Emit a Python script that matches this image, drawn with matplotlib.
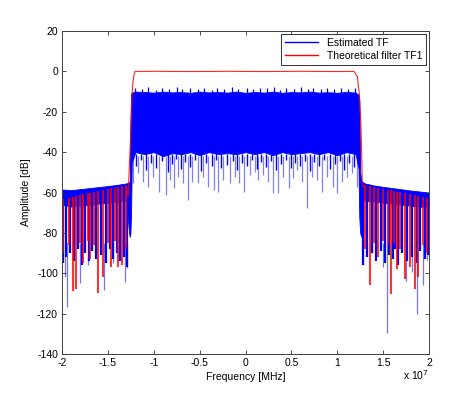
import numpy as np
import matplotlib.pyplot as plt

plt.rcParams["font.family"] = ["Liberation Sans", "DejaVu Sans"]
plt.rcParams["font.size"] = 7.5
plt.rcParams["axes.unicode_minus"] = False

# ===================== data (frequency in units of 1e7, amplitude in dB) =====================
# estimated TF : dense band (upper / lower envelope of the solid blue region)
blue_f = [-2.0, -1.9, -1.8, -1.7, -1.6, -1.5, -1.4, -1.3, -1.27, -1.262, -1.255, -1.248, -1.24,
          -1.2, -1.1, -1.0, -0.9, -0.8, -0.7, -0.6, -0.5, -0.4, -0.3, -0.2, -0.1, 0.0,
          0.1, 0.2, 0.3, 0.4, 0.5, 0.6, 0.7, 0.8, 0.9, 1.0, 1.1, 1.2, 1.232, 1.24, 1.25, 1.262,
          1.27, 1.3, 1.4, 1.5, 1.6, 1.7, 1.8, 1.9, 2.0]
blue_top = [-58.5, -58.8, -58.3, -57.8, -57.3, -56.8, -56.2, -55.5, -55.0, -54.5, -25.0, -11.0, -10.5,
            -10.0, -10.2, -10.5, -10.0, -10.4, -10.2, -10.6, -10.0, -10.4, -10.2, -10.5, -10.0, -10.6,
            -10.2, -10.5, -10.0, -10.6, -10.2, -10.4, -10.0, -10.5, -10.3, -10.6, -10.1, -10.5, -11.5, -14.0, -50.0, -54.0,
            -54.5, -55.5, -56.5, -57.2, -57.8, -58.4, -59.0, -59.5, -60.0]
blue_low = [-66.0, -67.0, -66.5, -66.0, -65.5, -65.0, -64.5, -64.0, -80.0, -82.0, -80.0, -70.0, -45.0,
            -40.0, -41.0, -40.0, -42.0, -40.5, -41.0, -40.0, -41.5, -40.0, -41.0, -40.5, -41.0, -40.0,
            -41.0, -40.0, -41.5, -40.0, -41.0, -40.5, -40.0, -41.0, -40.0, -41.5, -40.0, -41.0, -48.0, -72.0, -80.0, -82.0,
            -64.0, -64.0, -64.5, -65.0, -65.5, -66.0, -66.5, -67.0, -67.0]

# estimated TF : small peaks above the band (passband)
peak_f = [-1.21, -1.13, -1.06, -0.98, -0.91, -0.83, -0.75, -0.69, -0.61, -0.52, -0.45, -0.37, -0.31,
          -0.23, -0.15, -0.08, 0.02, 0.08, 0.16, 0.23, 0.31, 0.38, 0.44, 0.53, 0.61, 0.68, 0.74,
          0.82, 0.89, 0.97, 1.04, 1.12, 1.19]
peak_db = [-8.0, -8.8, -7.8, -9.0, -8.2, -8.6, -7.9, -8.9, -8.1, -8.7, -8.0, -9.1, -8.3,
           -8.5, -7.9, -8.8, -8.2, -8.9, -8.0, -8.4, -7.8, -9.0, -8.3, -8.6, -7.9, -8.8, -8.2,
           -8.5, -8.0, -8.9, -8.1, -8.7, -8.4]

# estimated TF : short dark dips just below the band (passband)
dip_mid_f = [-1.195, -1.14, -1.085, -1.03, -0.975, -0.91, -0.845, -0.80, -0.755, -0.705, -0.655,
             -0.61, -0.55, -0.49, -0.435, -0.37, -0.318, -0.27, -0.205, -0.14, -0.09, -0.04,
             0.015, 0.075, 0.122, 0.168, 0.222, 0.276, 0.33, 0.385, 0.445, 0.50, 0.543, 0.59,
             0.645, 0.70, 0.75, 0.805, 0.86, 0.92, 0.975, 1.025, 1.075, 1.13, 1.185]
dip_mid_db = [-47.0, -44.0, -49.0, -45.5, -48.0, -44.5, -50.0, -46.0, -43.5, -48.5, -45.0,
              -47.5, -44.0, -49.5, -45.5, -47.0, -44.0, -48.0, -46.5, -44.5, -49.0, -45.5,
              -47.0, -44.0, -48.5, -45.0, -47.5, -44.5, -49.0, -46.0, -44.0, -48.0, -45.5, -47.0,
              -44.5, -49.5, -45.0, -47.0, -44.0, -48.5, -46.0, -44.5, -49.0, -45.5, -47.5]

# estimated TF : single deep dips below the band (passband)
dip_pass_f = [-1.223, -1.168, -1.114, -1.059, -1.005, -0.940, -0.867, -0.823, -0.776, -0.732, -0.678,
              -0.630, -0.587, -0.514, -0.467, -0.405, -0.340, -0.296, -0.242, -0.169, -0.114, -0.068,
              -0.016, 0.049, 0.103, 0.140, 0.194, 0.249, 0.303, 0.358, 0.412, 0.477, 0.521, 0.565,
              0.612, 0.674, 0.721, 0.776, 0.830, 0.892, 0.950, 1.000, 1.048, 1.103, 1.157, 1.212]
dip_pass_db = [-55.4, -50.5, -54.6, -57.1, -52.2, -59.6, -61.2, -53.8, -57.9, -52.2, -55.4,
               -63.7, -54.6, -55.4, -52.2, -57.1, -58.8, -59.6, -53.8, -55.4, -52.2, -55.4,
               -59.6, -51.3, -49.7, -53.8, -51.3, -54.6, -60.4, -60.4, -52.2, -57.9, -53.0, -48.8,
               -54.6, -67.8, -52.2, -53.8, -59.6, -52.2, -57.1, -60.4, -54.6, -52.2, -50.5, -57.1]

# estimated TF : stopband lobes (blue streaks between / under the red ones)
blue_stop_f = [-1.995, -1.958, -1.912, -1.866, -1.822, -1.788, -1.745, -1.707, -1.672, -1.627, -1.578,
               -1.525, -1.483, -1.443, -1.404, -1.367, -1.325, -1.29,
               1.285, 1.328, 1.378, 1.424, 1.474, 1.524, 1.568, 1.603, 1.634, 1.666, 1.711, 1.765,
               1.82, 1.865, 1.905, 1.955, 1.993]
blue_stop_db = [-95.0, -92.0, -90.0, -94.0, -88.0, -96.0, -90.0, -94.0, -89.0, -93.0, -91.0,
                -95.0, -88.0, -93.0, -90.0, -94.0, -92.0, -97.0,
                -96.0, -92.0, -90.0, -94.0, -89.0, -95.0, -91.0, -93.0, -88.0, -96.0, -90.0, -94.0,
                -92.0, -95.0, -89.0, -93.0, -91.0]

# estimated TF : single deep dips (stopbands)
dip_stop_f = [-1.967, -1.949, -1.804, -1.720, -1.542, -1.441, -1.313, -1.288,
              1.284, 1.375, 1.502, 1.539, 1.746, 1.811, 1.873, 1.938, 1.982]
dip_stop_db = [-102.0, -116.5, -104.8, -96.0, -108.3, -95.0, -104.2, -97.4,
               -96.0, -90.0, -96.7, -129.7, -103.8, -99.2, -120.3, -105.8, -93.4]

# theoretical filter TF1 : passband and transition bands
red_f = [-1.30, -1.28, -1.265, -1.25, -1.24, -1.23, -1.215, -1.204, -1.0, -0.6, -0.2, 0.2, 0.6, 1.0,
         1.183, 1.219, 1.240, 1.255, 1.266, 1.273, 1.30]
red_db = [-57.0, -62.0, -45.0, -30.0, -15.0, -6.0, -1.5, 0.0, 0.05, -0.05, 0.05, -0.05, 0.05, -0.05,
          0.0, -2.6, -10.8, -22.5, -39.0, -57.0, -56.5]

# theoretical filter TF1 : stopband ripple lobes (top, bottom)
red_stop_f = [-1.985, -1.93, -1.884, -1.847, -1.80, -1.775, -1.72, -1.695, -1.65, -1.604, -1.55, -1.50,
              -1.466, -1.42, -1.386, -1.349, -1.302,
              1.30, 1.357, 1.40, 1.448, 1.50, 1.55, 1.586, 1.62, 1.648, 1.684, 1.738, 1.793, 1.847,
              1.883, 1.93, 1.98]
red_stop_top = [-63.0, -62.5, -62.0, -61.5, -61.0, -60.8, -60.3, -60.0, -59.6, -59.2, -58.7, -58.3,
                -58.0, -57.6, -57.3, -57.0, -56.5,
                -56.5, -57.0, -57.4, -57.8, -58.2, -58.7, -59.0, -59.3, -59.6, -59.9, -60.4, -60.9, -61.4,
                -61.7, -62.2, -62.7]
red_stop_bot = [-90.0, -86.0, -109.0, -108.0, -85.0, -95.0, -84.0, -93.0, -86.0, -110.0, -102.0, -85.0,
                -97.0, -84.0, -97.0, -96.0, -88.0,
                -88.0, -106.0, -85.0, -92.0, -84.0, -86.0, -110.3, -85.0, -98.0, -88.0, -103.0, -97.0, -108.0,
                -102.0, -86.0, -90.0]

# ===================== plot =====================
fig = plt.figure(figsize=(4.74, 3.98), dpi=100)
ax = fig.add_axes([0.131, 0.1106, 0.774, 0.8114])

blue = (0, 0, 1)
red = (1, 0, 0)

ax.fill_between(blue_f, blue_low, blue_top, color=blue, lw=0.6, edgecolor=blue)
ax.vlines(peak_f, -10.5, peak_db, color=blue, lw=0.9)
ax.vlines(dip_mid_f, -41, dip_mid_db, color=blue, lw=1.0)
ax.vlines(dip_pass_f, -42, dip_pass_db, color=blue, alpha=0.5, lw=0.9)
ax.vlines(blue_stop_f, -64, blue_stop_db, color=blue, lw=1.6)
ax.vlines(dip_stop_f, -85, dip_stop_db, color=blue, alpha=0.55, lw=0.9)

ax.vlines(red_stop_f, red_stop_top, red_stop_bot, color=red, alpha=0.8, lw=1.5)
ax.plot(red_f, red_db, color=red, lw=0.8, alpha=0.85)

# legend handles
ax.plot([], [], color=blue, lw=1.0, label='Estimated TF')
ax.plot([], [], color=red, lw=1.0, label='Theoretical filter TF1')
handles, labels = ax.get_legend_handles_labels()
leg = ax.legend(handles[-2:], labels[-2:], loc='upper right', fontsize=7.5, fancybox=False,
                framealpha=1, edgecolor='#303030', handlelength=3.2, borderpad=0.35,
                labelspacing=0.3, borderaxespad=0.3)
leg.get_frame().set_linewidth(0.7)

ax.set_xlim(-2, 2)
ax.set_ylim(-140, 20)
xt = [-2, -1.5, -1, -0.5, 0, 0.5, 1, 1.5, 2]
ax.set_xticks(xt)
ax.set_xticklabels(['%g' % v for v in xt])
ax.set_yticks(np.arange(-140, 21, 20))
ax.tick_params(direction='in', top=True, right=True, length=3, width=0.6, colors='#303030',
               labelcolor='black', pad=3)
for s in ax.spines.values():
    s.set_color('#404040')
    s.set_linewidth(0.7)

ax.set_xlabel('Frequency [MHz]', labelpad=3)
ax.set_ylabel('Amplitude [dB]', labelpad=4)
fig.text(0.905, 0.04, r'x 10$^{7}$', ha='right', va='bottom', fontsize=7.5)

plt.savefig('out.png', dpi=100)
